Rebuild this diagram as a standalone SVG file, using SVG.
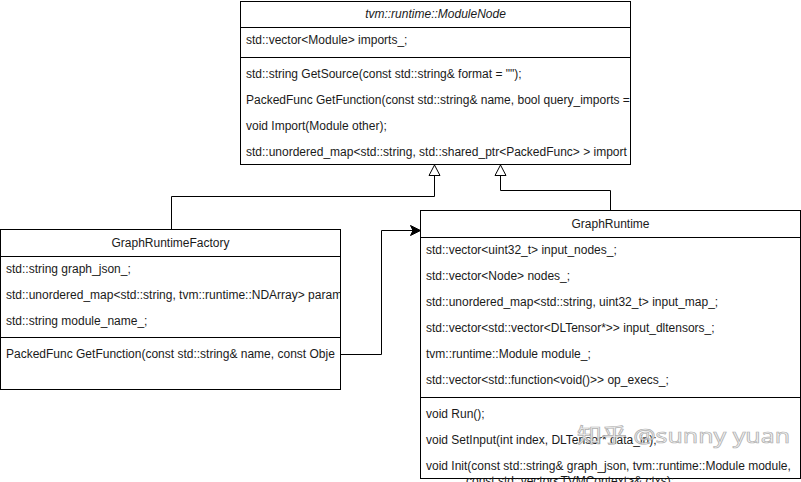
<svg xmlns="http://www.w3.org/2000/svg" width="801" height="482" viewBox="0 0 801 482">
<style>
  .box{fill:#fff;stroke:#000;stroke-width:1}
  .sep{stroke:#000;stroke-width:1;fill:none}
  .t{font-family:"Liberation Sans",Arial,sans-serif;font-size:12px;fill:#1a1a1a}
  .title{text-anchor:middle}
  .it{font-style:italic}
  .edge{fill:none;stroke:#000;stroke-width:1}
  .wm{font-family:"Noto Sans","Noto Sans CJK SC",sans-serif;font-size:20px;fill:#f2f2f2;stroke:#a8a8a8;stroke-width:0.7;opacity:0.9}
</style>
<defs>
  <clipPath id="cMod"><rect x="241" y="2" width="390" height="162"/></clipPath>
  <clipPath id="cFac"><rect x="1" y="230" width="339" height="159"/></clipPath>
  <clipPath id="cGR"><rect x="421" y="211" width="379" height="271"/></clipPath>
</defs>
<rect width="801" height="482" fill="#fff"/>
<g id="ModuleNode">
  <rect class="box" x="240.5" y="1.5" width="390" height="163"/>
  <line class="sep" x1="240.5" y1="27.5" x2="630.5" y2="27.5"/>
  <line class="sep" x1="240.5" y1="57.5" x2="630.5" y2="57.5"/>
  <g clip-path="url(#cMod)">
    <text class="t title it" x="435.5" y="18">tvm::runtime::ModuleNode</text>
    <text class="t" x="246" y="44">std::vector&lt;Module&gt; imports_;</text>
    <text class="t" x="246" y="78">std::string GetSource(const std::string&amp; format = "");</text>
    <text class="t" x="246" y="104">PackedFunc GetFunction(const std::string&amp; name, bool query_imports =</text>
    <text class="t" x="246" y="130">void Import(Module other);</text>
    <text class="t" x="246" y="156">std::unordered_map&lt;std::string, std::shared_ptr&lt;PackedFunc&gt; &gt; import</text>
  </g>
</g>
<g id="GraphRuntimeFactory">
  <rect class="box" x="0.5" y="229.5" width="340" height="160"/>
  <line class="sep" x1="0.5" y1="256.5" x2="340.5" y2="256.5"/>
  <line class="sep" x1="0.5" y1="337.5" x2="340.5" y2="337.5"/>
  <g clip-path="url(#cFac)">
    <text class="t title" x="170.5" y="247">GraphRuntimeFactory</text>
    <text class="t" x="6" y="273">std::string graph_json_;</text>
    <text class="t" x="6" y="299">std::unordered_map&lt;std::string, tvm::runtime::NDArray&gt; param</text>
    <text class="t" x="6" y="325">std::string module_name_;</text>
    <text class="t" x="6" y="358">PackedFunc GetFunction(const std::string&amp; name, const Obje</text>
  </g>
</g>
<g id="GraphRuntime">
  <rect class="box" x="420.5" y="210.5" width="380" height="268"/>
  <line class="sep" x1="420.5" y1="237.5" x2="800.5" y2="237.5"/>
  <line class="sep" x1="420.5" y1="397.5" x2="800.5" y2="397.5"/>
  <g clip-path="url(#cGR)">
    <text class="t title" x="610.5" y="228">GraphRuntime</text>
    <text class="t" x="426" y="254">std::vector&lt;uint32_t&gt; input_nodes_;</text>
    <text class="t" x="426" y="280">std::vector&lt;Node&gt; nodes_;</text>
    <text class="t" x="426" y="306">std::unordered_map&lt;std::string, uint32_t&gt; input_map_;</text>
    <text class="t" x="426" y="332">std::vector&lt;std::vector&lt;DLTensor*&gt;&gt; input_dltensors_;</text>
    <text class="t" x="426" y="358">tvm::runtime::Module module_;</text>
    <text class="t" x="426" y="384">std::vector&lt;std::function&lt;void()&gt;&gt; op_execs_;</text>
    <text class="t" x="426" y="418">void Run();</text>
    <text class="t" x="426" y="444">void SetInput(int index, DLTensor* data_in);</text>
    <text class="t" x="426" y="470">void Init(const std::string&amp; graph_json, tvm::runtime::Module module,</text>
    <text class="t" x="466" y="485">const std::vector&lt;TVMContext&gt;&amp; ctxs);</text>
  </g>
</g>
<g id="connectors">
  <path class="edge" d="M171.5,229.5 V196.5 H434.5 V175.5"/>
  <path class="edge" d="M434.5,165 L429,175.5 H440 Z" fill="#fff"/>
  <path class="edge" d="M610.5,210.5 V190.5 H500.5 V175.5"/>
  <path class="edge" d="M500.5,165 L495,175.5 H506 Z" fill="#fff"/>
  <path class="edge" d="M340.5,354.5 H381.5 V230.5 H413"/>
  <path d="M420.5,230.5 L410.5,225.5 L413,230.5 L410.5,235.5 Z" fill="#000" stroke="#000" stroke-width="1"/>
</g>
<text class="wm" x="577" y="443" textLength="213" lengthAdjust="spacingAndGlyphs">知乎 @sunny yuan</text>
</svg>
